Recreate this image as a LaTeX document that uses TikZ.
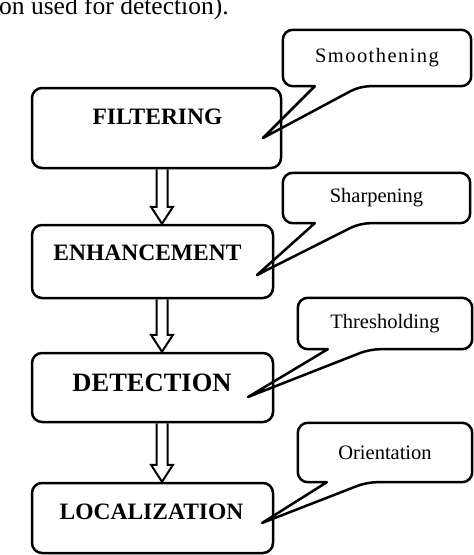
\documentclass[tikz,border=0pt]{standalone}
\usepackage{fontspec}
\setmainfont{Liberation Serif}
\usetikzlibrary{calc}

\tikzset{
  stage/.style={draw, line width=2.5pt, rounded corners=10pt, inner sep=0pt},
  stagetext/.style={inner sep=0pt, font=\fontsize{23.5}{26}\selectfont\bfseries},
  note/.style={inner sep=0pt, font=\fontsize{20.5}{24}\selectfont},
  bubble/.style={draw, line width=2.5pt, line join=round},
  hollow/.style={draw, line width=2pt, line join=miter}
}

\begin{document}
\begin{tikzpicture}[x=1pt, y=-1pt]
  \useasboundingbox (0,0) rectangle (474,555);
  \clip (0,0) rectangle (474,555);

  \node[anchor=base west, inner sep=0pt, font=\fontsize{25.5}{28}\selectfont] (cap) at (-1,14) {on used for detection).};

  % stages
  \node[stage, minimum width=249pt, minimum height=80pt] (f) at (156.5,128) {};
  \node[stage, minimum width=241pt, minimum height=73pt] (e) at (152.5,261.5) {};
  \node[stage, minimum width=241pt, minimum height=69pt] (d) at (152.5,387.5) {};
  \node[stage, minimum width=241pt, minimum height=70pt] (l) at (152.5,518) {};

  \node[stagetext] (ft) at (157.5,117) {FILTERING};
  \node[stagetext] (et) at (147.5,253) {ENHANCEMENT};
  \node[stagetext, font=\fontsize{26.5}{29}\selectfont\bfseries] (dt) at (152,383) {DETECTION};
  \node[stagetext] (lt) at (151.5,512) {LOCALIZATION};

  % hollow arrows
  \coordinate (ax) at (162,0);
  \foreach \a/\b in {f/e, e/d, d/l}
    \draw[hollow] ($(\a.south -| ax)+(-5.5,0)$) -- ($(\b.north -| ax)+(-5.5,-17)$) -- ++(-5.5,0)
      -- (\b.north -| ax) -- ($(\b.north -| ax)+(11,-17)$) -- ++(-5.5,0) -- ($(\a.south -| ax)+(5.5,0)$);

  % callouts
  \node[note, minimum width=188pt, minimum height=56pt] (c1) at (377,58) {\addfontfeature{LetterSpace=7}Smoothening};
  \node[note, minimum width=187pt, minimum height=50pt] (c2) at (376.5,198) {Sharpening};
  \node[note, minimum width=174pt, minimum height=51pt] (c3) at (385,323.5) {Thresholding};
  \node[note, minimum width=174pt, minimum height=59pt] (c4) at (385,452.5) {Orientation};

  \coordinate (t1) at (263,138);
  \coordinate (t2) at (257,275);
  \coordinate (t3) at (248,397);
  \coordinate (t4) at (262,523);

  \foreach \c/\t/\p/\q in {c1/t1/32/77, c2/t2/32/77, c3/t3/30/72, c4/t4/29/69}
    \draw[bubble] (\t) -- ($(\c.south west)+(\p,0)$) [rounded corners=10pt] -- (\c.south west)
      -- (\c.north west) -- (\c.north east) -- (\c.south east) -- ($(\c.south west)+(\q,0)$)
      [sharp corners] -- cycle;
\end{tikzpicture}
\end{document}
